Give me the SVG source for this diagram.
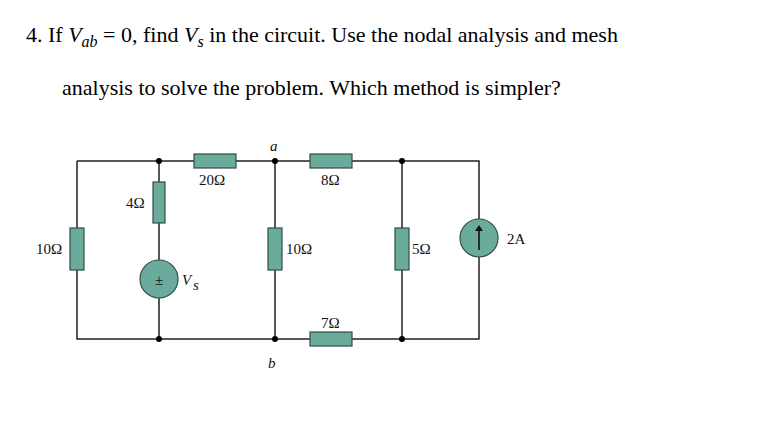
<svg xmlns="http://www.w3.org/2000/svg" width="761" height="438" viewBox="0 0 761 438">
<style>
.w{stroke:#222;stroke-width:1.5;fill:none}
.r{fill:#6aab9c;stroke:#2f4f47;stroke-width:1.2}
.t{font-family:"Liberation Serif",serif;font-size:22px;fill:#000}
.l{font-family:"Liberation Serif",serif;font-size:15px;fill:#111}
.i{font-style:italic}
.d{fill:#000}
</style>
<rect width="761" height="438" fill="#fff"/>
<text class="t" x="26" y="42">4. If <tspan class="i">V</tspan><tspan class="i" font-size="16" dy="5">ab</tspan><tspan dy="-5"> = 0, find </tspan><tspan class="i">V</tspan><tspan class="i" font-size="16" dy="5">s</tspan><tspan dy="-5"> in the circuit. Use the nodal analysis and mesh</tspan></text>
<text class="t" x="62" y="95">analysis to solve the problem. Which method is simpler?</text>
<g id="connectors">
<path class="w" d="M77,161 H194 M236,161 H310 M352,161 H479 V219 M479,257 V339 H352 M310,339 H77 V161"/>
<path class="w" d="M159,161 V182 M159,223 V260 M159,298 V339"/>
<path class="w" d="M275,161 V339 M402,161 V339"/>
<circle class="d" cx="159" cy="161" r="3"/><circle class="d" cx="275" cy="161" r="3"/><circle class="d" cx="402" cy="161" r="3"/>
<circle class="d" cx="159" cy="339" r="3"/><circle class="d" cx="275" cy="339" r="3"/><circle class="d" cx="402" cy="339" r="3"/>
</g>
<g id="R20"><rect class="r" x="194" y="154" width="42" height="14"/><text class="l" x="199" y="185">20Ω</text></g>
<g id="R8"><rect class="r" x="310" y="154" width="42" height="14"/><text class="l" x="321" y="185">8Ω</text></g>
<g id="R7"><rect class="r" x="310" y="332" width="42" height="14"/><text class="l" x="321" y="328">7Ω</text></g>
<g id="R10L"><rect class="r" x="70" y="228" width="14" height="42"/><text class="l" x="36" y="254">10Ω</text></g>
<g id="R4"><rect class="r" x="153" y="182" width="12" height="41"/><text class="l" x="126" y="208">4Ω</text></g>
<g id="R10M"><rect class="r" x="268" y="228" width="14" height="42"/><text class="l" x="286" y="254">10Ω</text></g>
<g id="R5"><rect class="r" x="395" y="228" width="14" height="42"/><text class="l" x="412" y="254">5Ω</text></g>
<g id="Vs"><circle class="r" cx="159" cy="279" r="19"/><text class="l" x="159" y="285" text-anchor="middle" font-size="18">±</text><text class="l i" x="182" y="285" font-size="19">V</text><text class="l i" x="193" y="290" font-size="13">s</text></g>
<g id="I2A"><circle class="r" cx="479" cy="238" r="19"/><path d="M479,250 V229" stroke="#111" stroke-width="1.6"/><path d="M475,231 L479,225 L483,231Z" fill="#111"/><text class="l" x="507" y="244" font-size="16">2A</text></g>
<g id="na"><text class="l i" x="270" y="151" font-size="18">a</text></g>
<g id="nb"><text class="l i" x="268" y="368" font-size="18">b</text></g>
</svg>
